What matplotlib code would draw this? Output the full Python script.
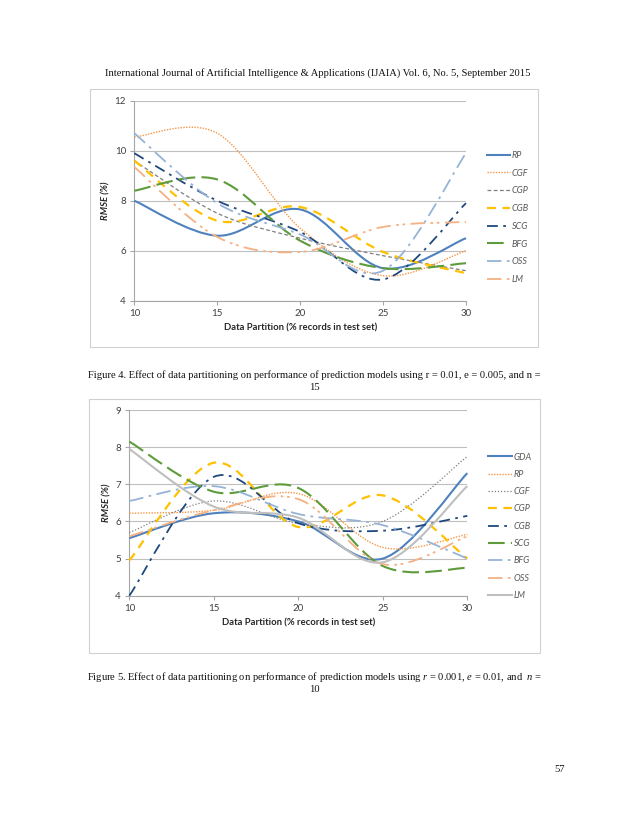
import matplotlib
matplotlib.use("Agg")
import matplotlib.pyplot as plt
from matplotlib.path import Path
from matplotlib.patches import PathPatch, Rectangle
from matplotlib.lines import Line2D

plt.rcParams["mathtext.fontset"] = "custom"
plt.rcParams["mathtext.rm"] = "Liberation Serif"
plt.rcParams["mathtext.it"] = "Liberation Serif:italic"

# ---------------- data ----------------
x_partition = [10, 15, 20, 25, 30]

# Figure 4
fig4_labels = ["RP", "CGF", "CGP", "CGB", "SCG", "BFG", "OSS", "LM"]
fig4_RP = [8.0, 6.6, 7.65, 5.3, 6.5]
fig4_CGF = [10.55, 10.7, 6.9, 5.0, 6.0]
fig4_CGP = [9.6, 7.5, 6.5, 5.8, 5.2]
fig4_CGB = [9.6, 7.2, 7.75, 5.95, 5.1]
fig4_SCG = [9.9, 8.0, 6.75, 4.85, 7.9]
fig4_BFG = [8.4, 8.85, 6.4, 5.3, 5.5]
fig4_OSS = [10.7, 7.9, 6.65, 5.2, 9.9]
fig4_LM = [9.35, 6.55, 5.95, 6.95, 7.15]
fig4_yticks = [4, 6, 8, 10, 12]

# Figure 5
fig5_labels = ["GDA", "RP", "CGF", "CGP", "CGB", "SCG", "BFG", "OSS", "LM"]
fig5_GDA = [5.55, 6.22, 6.0, 5.0, 7.3]
fig5_RP = [6.22, 6.3, 6.75, 5.3, 5.65]
fig5_CGF = [5.7, 6.55, 5.95, 6.0, 7.75]
fig5_CGP = [4.95, 7.58, 5.85, 6.7, 5.0]
fig5_CGB = [4.0, 7.2, 5.95, 5.75, 6.15]
fig5_SCG = [8.15, 6.8, 6.9, 4.8, 4.75]
fig5_BFG = [6.55, 6.95, 6.2, 5.9, 5.0]
fig5_OSS = [5.6, 6.3, 6.6, 4.85, 5.6]
fig5_LM = [7.95, 6.4, 6.1, 4.9, 6.95]
fig5_yticks = [4, 5, 6, 7, 8, 9]

xticks = [10, 15, 20, 25, 30]

# ---------------- styles ----------------
BLUE = "#4F81BD"
ORANGE = "#F79646"
GRAY = "#7F7F7F"
YELLOW = "#FFC000"
DBLUE = "#1F497D"
GREEN = "#5E9B3A"
LBLUE = "#95B3D7"
SALMON = "#F4B183"
LGRAY = "#BFBFBF"

sty4 = [
    dict(color=BLUE, lw=1.5, ls="-"),
    dict(color=ORANGE, lw=1.0, ls=(0, (1, 1))),
    dict(color=GRAY, lw=0.9, ls=(0, (3, 2))),
    dict(color=YELLOW, lw=1.6, ls=(0, (4, 3))),
    dict(color=DBLUE, lw=1.3, ls=(0, (6, 3, 1.5, 3))),
    dict(color=GREEN, lw=1.5, ls=(0, (8, 3))),
    dict(color=LBLUE, lw=1.3, ls=(0, (8, 3, 1.5, 3))),
    dict(color=SALMON, lw=1.3, ls=(0, (8, 3, 1.5, 2, 1.5, 3))),
]
sty5 = [
    dict(color=BLUE, lw=1.5, ls="-"),
    dict(color=ORANGE, lw=1.0, ls=(0, (1, 1))),
    dict(color=GRAY, lw=0.9, ls=(0, (1, 1.5))),
    dict(color=YELLOW, lw=1.6, ls=(0, (4, 3))),
    dict(color=DBLUE, lw=1.3, ls=(0, (6, 3, 1.5, 3))),
    dict(color=GREEN, lw=1.5, ls=(0, (8, 3))),
    dict(color=LBLUE, lw=1.3, ls=(0, (8, 3, 1.5, 3))),
    dict(color=SALMON, lw=1.3, ls=(0, (8, 3, 1.5, 2, 1.5, 3))),
    dict(color=LGRAY, lw=1.5, ls="-"),
]

TICKFONT = "Lato"
TXT = "#404040"


def smooth_path(x, y):
    """Excel-style smoothed line as cubic Bezier path."""
    n = len(x)
    verts = [(x[0], y[0])]
    codes = [Path.MOVETO]
    for i in range(n - 1):
        p0 = i - 1 if i > 0 else i
        p3 = i + 2 if i + 2 < n else i + 1
        c1 = (x[i] + (x[i + 1] - x[p0]) / 6.0, y[i] + (y[i + 1] - y[p0]) / 6.0)
        c2 = (x[i + 1] - (x[p3] - x[i]) / 6.0, y[i + 1] - (y[p3] - y[i]) / 6.0)
        verts += [c1, c2, (x[i + 1], y[i + 1])]
        codes += [Path.CURVE4] * 3
    return Path(verts, codes)


def draw_chart(ax, series, labels, styles, yticks, legend_y, lspace):
    ax.set_xlim(10, 30)
    ax.set_ylim(yticks[0], yticks[-1])
    handles = []
    for vals, lab, st in zip(series, labels, styles):
        patch = PathPatch(smooth_path(x_partition, vals), fill=False,
                          edgecolor=st["color"], lw=st["lw"], linestyle=st["ls"],
                          capstyle="butt", joinstyle="round", clip_on=False, zorder=3)
        ax.add_patch(patch)
        handles.append(Line2D([], [], color=st["color"], lw=st["lw"], ls=st["ls"]))
    ax.set_yticks(yticks)
    ax.set_xticks(xticks)
    ax.grid(axis="y", color="#BFBFBF", lw=0.8)
    ax.set_axisbelow(True)
    for s in ["top", "right"]:
        ax.spines[s].set_visible(False)
    for s in ["left", "bottom"]:
        ax.spines[s].set_color("#A6A6A6")
        ax.spines[s].set_linewidth(0.8)
    ax.tick_params(axis="both", length=3, width=0.8, color="#A6A6A6",
                   labelsize=7, labelcolor=TXT, pad=3)
    for t in ax.get_xticklabels() + ax.get_yticklabels():
        t.set_fontfamily(TICKFONT)
    ax.set_xlabel("Data Partition (% records in test set)", fontsize=6.8,
                  fontweight="bold", family=TICKFONT, color="#262626", labelpad=4)
    ax.set_ylabel("RMSE (%)", fontsize=6.8, fontweight="bold", fontstyle="italic",
                  family=TICKFONT, color="#262626", labelpad=3)
    leg = ax.legend(handles, labels, loc="center left", bbox_to_anchor=(1.062, legend_y),
                    frameon=False, handlelength=2.6, handletextpad=0.2,
                    labelspacing=lspace, borderpad=0, borderaxespad=0,
                    prop=dict(family=TICKFONT, size=6.5, style="italic"))
    for t in leg.get_texts():
        t.set_color("#595959")


fig = plt.figure(figsize=(6.38, 8.26), dpi=100)
W, H = 638.0, 826.0


def fx(px):
    return px / W


def fy(py):
    return 1 - py / H


# frames
fig.patches.append(Rectangle((fx(90), fy(346.7)), fx(538) - fx(90), fy(89.3) - fy(346.7),
                             transform=fig.transFigure, fill=False, edgecolor="#D0D0D0", lw=0.8))
fig.patches.append(Rectangle((fx(89), fy(653)), fx(540) - fx(89), fy(399) - fy(653),
                             transform=fig.transFigure, fill=False, edgecolor="#D0D0D0", lw=0.8))

ax1 = fig.add_axes([fx(134.3), fy(300.7), fx(466) - fx(134.3), fy(100.7) - fy(300.7)])
draw_chart(ax1, [fig4_RP, fig4_CGF, fig4_CGP, fig4_CGB, fig4_SCG, fig4_BFG, fig4_OSS, fig4_LM],
           fig4_labels, sty4, fig4_yticks, (300.7 - 217.5) / 200.0, 0.97)

ax2 = fig.add_axes([fx(129.3), fy(595.7), fx(467.3) - fx(129.3), fy(410) - fy(595.7)])
draw_chart(ax2, [fig5_GDA, fig5_RP, fig5_CGF, fig5_CGP, fig5_CGB, fig5_SCG, fig5_BFG, fig5_OSS, fig5_LM],
           fig5_labels, sty5, fig5_yticks, (595.7 - 526.3) / 185.7, 0.92)

SERIF = "Liberation Serif"
fig.text(fx(318), fy(73), "International Journal of Artificial Intelligence & Applications (IJAIA) Vol. 6, No. 5, September 2015",
         ha="center", va="center", family=SERIF, fontsize=7.6, color="#111111")
fig.text(fx(314), fy(375), "Figure 4. Effect of data partitioning on performance of prediction models using r = 0.01, e = 0.005, and n =",
         ha="center", va="center", family=SERIF, fontsize=7.6, color="#111111")
fig.text(fx(314), fy(388), "15", ha="center", va="center", family=SERIF, fontsize=7.6, color="#111111")
fig.text(fx(314), fy(677), "Figure 5. Effect of data partitioning on performance of prediction models using $\\it{r}$ = 0.001, $\\it{e}$ = 0.01, and  $\\it{n}$ =",
         ha="center", va="center", family=SERIF, fontsize=7.6, color="#111111")
fig.text(fx(314), fy(690), "10", ha="center", va="center", family=SERIF, fontsize=7.6, color="#111111")
fig.text(fx(560), fy(770), "57", ha="center", va="center", family=SERIF, fontsize=7.6, color="#111111")

fig.savefig("out.png", dpi=100, facecolor="white")
